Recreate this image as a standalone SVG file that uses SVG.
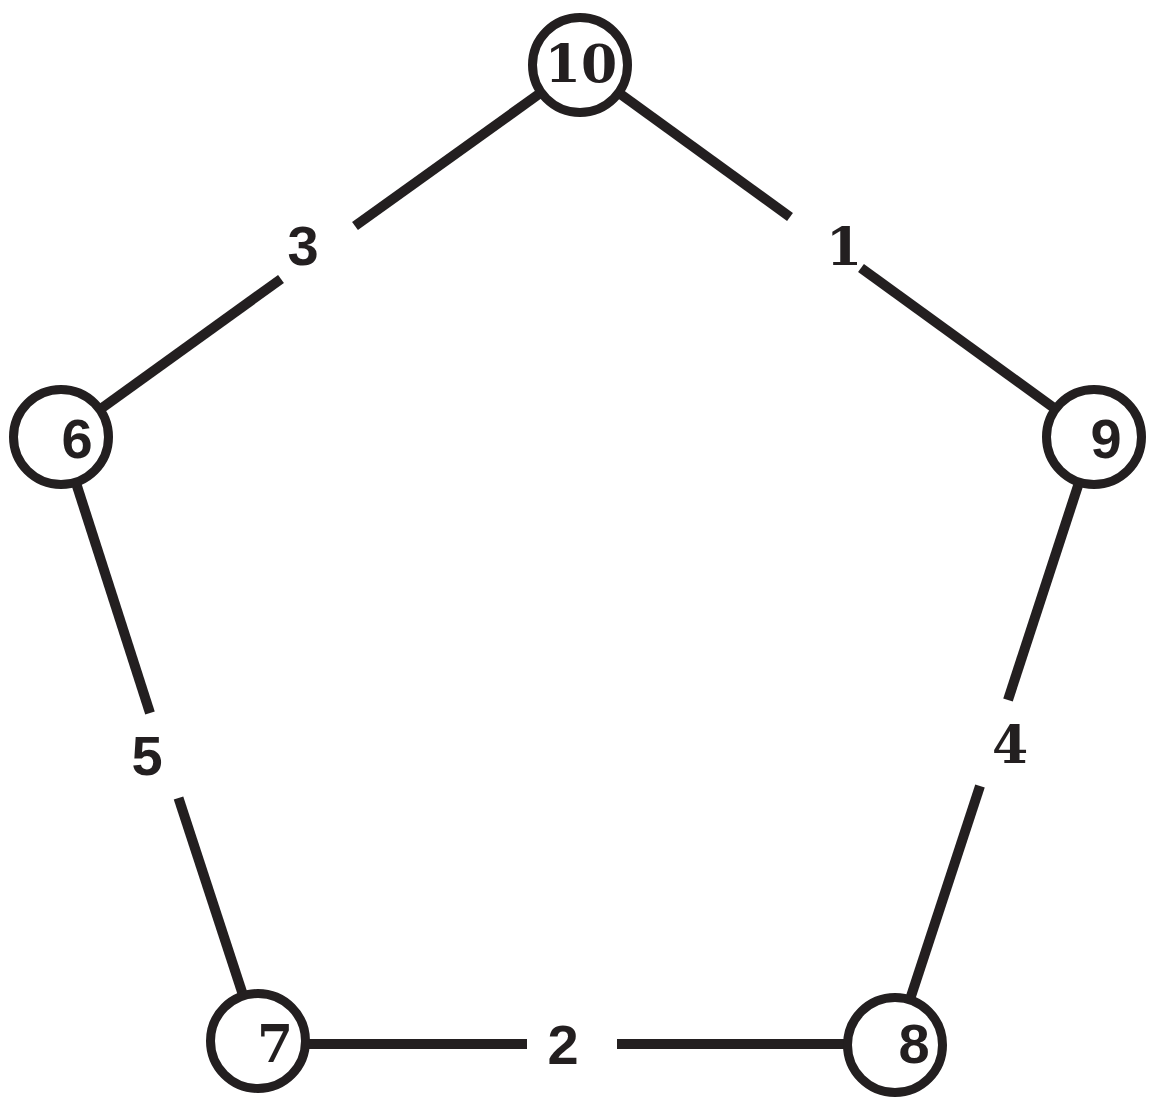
<svg xmlns="http://www.w3.org/2000/svg" width="1157" height="1104" viewBox="0 0 1157 1104">
<style>
.edge{stroke:#231f20;stroke-width:10;fill:none;stroke-linecap:butt}
.node{fill:#fff;stroke:#231f20;stroke-width:9}
</style>
<rect width="1157" height="1104" fill="#fff"/>
<g id="connectors">
<line class="edge" x1="619" y1="93" x2="790" y2="217"/>
<line class="edge" x1="861" y1="268" x2="1054" y2="408"/>
<line class="edge" x1="539" y1="94" x2="355" y2="226"/>
<line class="edge" x1="281" y1="279" x2="102" y2="408"/>
<line class="edge" x1="76.5" y1="484.5" x2="150" y2="713"/>
<line class="edge" x1="178.5" y1="798" x2="242.5" y2="993.5"/>
<line class="edge" x1="1078.4" y1="484.5" x2="1008" y2="700"/>
<line class="edge" x1="980" y1="786" x2="910.6" y2="997.5"/>
<line class="edge" x1="306" y1="1044" x2="527" y2="1044"/>
<line class="edge" x1="617" y1="1044" x2="847" y2="1044"/>
</g>
<g id="edge-labels" fill="#231f20" text-anchor="middle">
<g font-family="DejaVu Serif, Liberation Serif, serif" font-size="52" font-weight="bold">
<text x="844" y="265">1</text>
<text x="1010" y="763">4</text>
</g>
<g font-family="Liberation Sans, Arial, sans-serif" font-size="56" font-weight="bold">
<text x="303" y="265">3</text>
<text x="147" y="775">5</text>
<text x="563" y="1064">2</text>
</g>
</g>
<g id="node10"><circle class="node" cx="580" cy="65" r="47.5"/><text x="581" y="82" font-family="DejaVu Serif, Liberation Serif, serif" font-size="52" font-weight="bold" fill="#231f20" text-anchor="middle">10</text></g>
<g id="node6"><circle class="node" cx="61" cy="437" r="47.5"/><text x="77" y="458" font-family="Liberation Sans, Arial, sans-serif" font-size="56" font-weight="bold" fill="#231f20" text-anchor="middle">6</text></g>
<g id="node9"><circle class="node" cx="1094" cy="437" r="47.5"/><text x="1106" y="458" font-family="Liberation Sans, Arial, sans-serif" font-size="56" font-weight="bold" fill="#231f20" text-anchor="middle">9</text></g>
<g id="node7"><circle class="node" cx="258" cy="1041" r="47.5"/><text x="275" y="1062" font-family="DejaVu Serif, Liberation Serif, serif" font-size="52" font-weight="bold" fill="#231f20" text-anchor="middle">7</text></g>
<g id="node8"><circle class="node" cx="895" cy="1045" r="47.5"/><text x="914" y="1063" font-family="Liberation Sans, Arial, sans-serif" font-size="56" font-weight="bold" fill="#231f20" text-anchor="middle">8</text></g>
</svg>
